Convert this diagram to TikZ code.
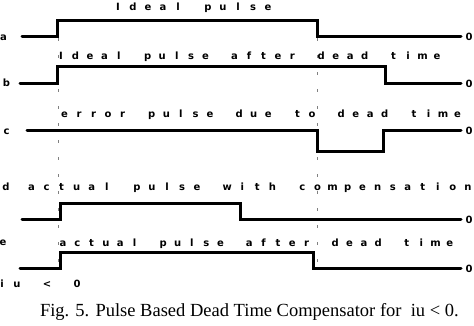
\documentclass[tikz,border=0pt]{standalone}
\usepackage{fontspec}
\setmainfont{Liberation Serif}
\newfontfamily\pixfont{DejaVu Sans}
\ExplSyntaxOn
\NewDocumentCommand\spaced{mm}{\str_map_inline:nn{#2}{\makebox[#1][c]{##1}}}
\ExplSyntaxOff
\begin{document}
\begin{tikzpicture}[x=1pt,y=-1pt,
  wave/.style={line width=3pt, line cap=round, line join=miter},
  guide/.style={line width=0.7pt, gray, dash pattern=on 3pt off 14pt},
  lbl/.style={inner sep=0pt, outer sep=0pt, anchor=base, font=\pixfont\bfseries\fontsize{10}{12}\selectfont},
  seq/.style={lbl, anchor=base west},
  captext/.style={inner sep=0pt, outer sep=0pt, anchor=base west, font=\fontsize{18.5}{22}\selectfont}]
\useasboundingbox (0,0) rectangle (474,325);
% guides
\draw[guide] (58,38) -- (58,266);
\draw[guide] (317,38) -- (317,266);
% waveforms
\draw[wave] (22,36) -- (57,36) -- (57,20) -- (317,20) -- (317,36) -- (461,36);
\draw[wave] (20,83) -- (57,83) -- (57,66) -- (385,66) -- (385,83) -- (461,83);
\draw[wave] (27,130) -- (317,130) -- (317,151) -- (383,151) -- (383,130) -- (461,130);
\draw[wave] (22,219) -- (60,219) -- (60,203) -- (240,203) -- (240,219) -- (461,219);
\draw[wave] (20,268) -- (60,268) -- (60,252) -- (313,252) -- (313,268) -- (461,268);
% row labels
\node[lbl] (la) at (3.5,40) {a};
\node[lbl] (lb) at (6.5,86) {b};
\node[lbl] (lc) at (6.5,134) {c};
\node[lbl] (ld) at (6,190.5) {d};
\node[lbl] (le) at (3,245.5) {e};
\node[seq] (iu) at (-5.5,287.5) {\spaced{15pt}{iu < 0}};
% zeros
\node[lbl] (za) at (469,40.5) {0};
\node[lbl] (zb) at (469,87.5) {0};
\node[lbl] (zc) at (469,134.5) {0};
\node[lbl] (zd) at (469,223.5) {0};
\node[lbl] (ze) at (469,272.5) {0};
% texts
\node[seq] (ta) at (110.5,10) {\spaced{15pt}{Ideal pulse}};
\node[seq] (tb) at (53.8,59) {\spaced{14.46pt}{Ideal pulse after dead time}};
\node[seq] (tc) at (57.2,117) {\spaced{14.56pt}{error pulse due to dead time}};
\node[seq] (td) at (24,190.5) {\spaced{15.05pt}{actual pulse with compensation}};
\node[seq] (te) at (55.8,246.5) {\spaced{14.33pt}{actual pulse after dead time}};
% caption
\node[captext] (fig) at (40,316.5) {Fig. 5. Pulse Based Dead Time Compensator for\ \ iu {<} 0.};
\end{tikzpicture}
\end{document}
